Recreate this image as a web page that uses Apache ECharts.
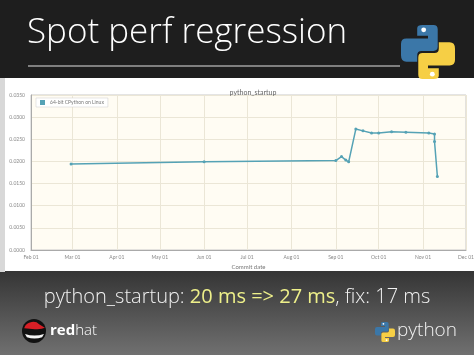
<!DOCTYPE html>
<html>
<head>
	<meta charset="UTF-8">
	<title>Spot perf regression</title>
	<script src="https://cdn.jsdelivr.net/npm/echarts@6/dist/echarts.min.js"></script>
	<style>
		html, body { margin:0; padding:0; background:#1e1e1e; }
		#chart { width:474px; height:355px; }
	</style>
</head>
<body>
<div id="chart"></div>

<script type="text/javascript">
	// benchmark: python_startup, 64-bit CPython on Linux
	var dates = ['2016-02-29', '2016-06-01', '2016-09-01', '2016-09-05', '2016-09-08', '2016-09-10',
		'2016-09-15', '2016-09-20', '2016-09-26', '2016-10-01', '2016-10-10', '2016-10-20',
		'2016-11-05', '2016-11-09', '2016-11-09', '2016-11-11'];
	var seconds = [0.0194, 0.0199, 0.0202, 0.0211, 0.0203, 0.0199,
		0.0273, 0.0269, 0.0264, 0.0264, 0.0267, 0.0266,
		0.0264, 0.0262, 0.0245, 0.0166];
	var seriesName = '64-bit CPython on Linux';
	var yTicks = [0, 0.005, 0.01, 0.015, 0.02, 0.025, 0.03, 0.035];

	var chart = echarts.init(document.getElementById('chart'));

	var points = [];
	for (var i = 0; i < dates.length; i++)
	{
		points.push([dates[i], seconds[i]]);
	}

	// logo shapes, drawn in a 100x100 box and scaled
	echarts.graphic.registerShape('pyBlue', echarts.graphic.extendPath(
		'M30 6 Q30 0 40 0 L60 0 Q68 0 68 8 L68 40 Q68 48 60 48 L38 48 Q30 48 30 56 L30 68 L10 68 Q0 68 0 56 L0 35 Q0 25 10 25 L50 25 L50 20 L30 20 Z', {}));
	echarts.graphic.registerShape('pyYellow', echarts.graphic.extendPath(
		'M70 94 Q70 100 60 100 L40 100 Q32 100 32 92 L32 60 Q32 52 40 52 L62 52 Q70 52 70 44 L70 32 L90 32 Q100 32 100 44 L100 65 Q100 75 90 75 L50 75 L50 80 L70 80 Z', {}));
	echarts.graphic.registerShape('rhHat', echarts.graphic.extendPath(
		'M5 62 Q12 25 38 20 Q58 15 70 35 L95 58 Q80 72 40 66 Z', {}));
	echarts.graphic.registerShape('rhBrim', echarts.graphic.extendPath(
		'M0 0 Q50 40 100 0 L90 40 Q50 70 10 40 Z', {}));

	function pyLogo(x, y, s)
	{
		var k = s / 100;
		return [
			{type:'pyBlue', x:x, y:y, scaleX:k, scaleY:k, style:{fill:'#3b77a8'}},
			{type:'pyYellow', x:x, y:y, scaleX:k, scaleY:k, style:{fill:'#f6cf45'}},
			{type:'circle', shape:{cx:x+s*0.42, cy:y+s*0.09, r:s*0.045}, style:{fill:'#fff'}},
			{type:'circle', shape:{cx:x+s*0.58, cy:y+s*0.91, r:s*0.045}, style:{fill:'#fff'}}
		];
	}

	var decor = [
		// dark header and bottom band
		{type:'rect', shape:{x:0, y:0, width:474, height:78}, style:{fill:'#1e1e1e'}, z:-10},
		{type:'rect', shape:{x:0, y:78, width:474, height:194}, style:{fill:'#ffffff'}, z:-10},
		{type:'rect', shape:{x:0, y:78, width:5, height:194}, style:{fill:'#d8d8d8'}, z:-9},
		{type:'rect', shape:{x:0, y:271, width:474, height:84}, z:-10,
			style:{fill:new echarts.graphic.LinearGradient(0, 0, 0, 1, [
				{offset:0, color:'#353535'}, {offset:1, color:'#707070'}])}},
		{type:'text', x:27, y:16, style:{text:'Spot perf regression', fill:'#ffffff',
			font:'300 35px "Open Sans", sans-serif'}},
		{type:'line', shape:{x1:28, y1:66, x2:400, y2:66}, style:{stroke:'#a0a0a0', lineWidth:1.5}},
		{type:'text', x:237, y:297, style:{
			text:'{w|python_startup: }{y|20 ms => 27 ms}{w|, fix: 17 ms}',
			align:'center', verticalAlign:'middle',
			rich:{
				w:{fill:'#f2f2f2', font:'300 20px "Open Sans", sans-serif'},
				y:{fill:'#eef08a', font:'400 20px "Open Sans", sans-serif'}
			}}},
		// red hat mark
		{type:'circle', shape:{cx:34, cy:331, r:12}, style:{fill:'#111'}},
		{type:'rhHat', x:23, y:319, scaleX:0.23, scaleY:0.15, style:{fill:'#d71f26'}},
		{type:'rhBrim', x:25, y:334, scaleX:0.19, scaleY:0.08, style:{fill:'#f4f4f4'}},
		{type:'text', x:50, y:331, style:{text:'{b|red}{n|hat}', verticalAlign:'middle',
			rich:{
				b:{fill:'#ffffff', font:'bold 15px "Open Sans", sans-serif'},
				n:{fill:'#ffffff', font:'300 15px "Open Sans", sans-serif'}
			}}},
		{type:'text', x:397, y:331, style:{text:'python', fill:'#f2f2f2', verticalAlign:'middle',
			font:'300 19px "Open Sans", sans-serif'}}
	];
	decor = decor.concat(pyLogo(401, 25, 54)).concat(pyLogo(375, 322, 20));

	var option =
	{
		backgroundColor:'#ffffff',
		animation:false,
		textStyle:{fontFamily:'Lato'},
		title:
		{
			text:'python_startup',
			left:248,
			top:84,
			textAlign:'center',
			textStyle:{fontSize:7, fontWeight:'normal', color:'#666'}
		},
		legend:
		{
			left:36,
			top:98,
			orient:'vertical',
			backgroundColor:'#ffffff',
			borderColor:'#cccccc',
			borderWidth:0.5,
			padding:[2, 4],
			icon:'rect',
			itemWidth:5,
			itemHeight:5,
			itemGap:2,
			textStyle:{fontSize:5, color:'#777'},
			data:[seriesName]
		},
		grid:
		{
			left:31,
			right:8,
			top:95,
			bottom:105,
			containLabel:false,
			outerBoundsMode:'none',
			show:true,
			backgroundColor:'#fffcf3',
			borderColor:'#c8c8c8',
			borderWidth:1
		},
		xAxis:
		{
			type:'time',
			min:'2016-02-01',
			max:'2016-12-01',
			minInterval:28 * 24 * 3600 * 1000,
			maxInterval:31 * 24 * 3600 * 1000,
			name:'Commit date',
			nameLocation:'middle',
			nameGap:14,
			nameTextStyle:{fontSize:6, color:'#777'},
			axisLine:{lineStyle:{color:'#aaa'}},
			axisTick:{show:false},
			axisLabel:{fontSize:5, color:'#888', margin:5, showMinLabel:true, showMaxLabel:true,
				formatter:'{MMM} {dd}', hideOverlap:false},
			splitLine:{show:true, lineStyle:{color:'#ebe6d6', width:1}}
		},
		yAxis:
		{
			type:'value',
			min:yTicks[0],
			max:yTicks[yTicks.length - 1],
			interval:0.005,
			name:'Seconds (less is better)',
			nameLocation:'middle',
			nameGap:22,
			nameTextStyle:{fontSize:5, color:'#777'},
			axisLine:{show:true, lineStyle:{color:'#aaa'}},
			axisTick:{show:false},
			axisLabel:{fontSize:5, color:'#888', margin:6,
				formatter:function(v) { return v.toFixed(4); }},
			splitLine:{lineStyle:{color:'#ebe6d6', width:1}}
		},
		series:
		[{
			name:seriesName,
			type:'line',
			data:points,
			color:'#55a2b5',
			symbol:'circle',
			symbolSize:3,
			lineStyle:{width:1.5, color:'#55a2b5'},
			itemStyle:{color:'#55a2b5'}
		}],
		graphic:decor
	};
	chart.setOption(option);
</script>
</body>
</html>
